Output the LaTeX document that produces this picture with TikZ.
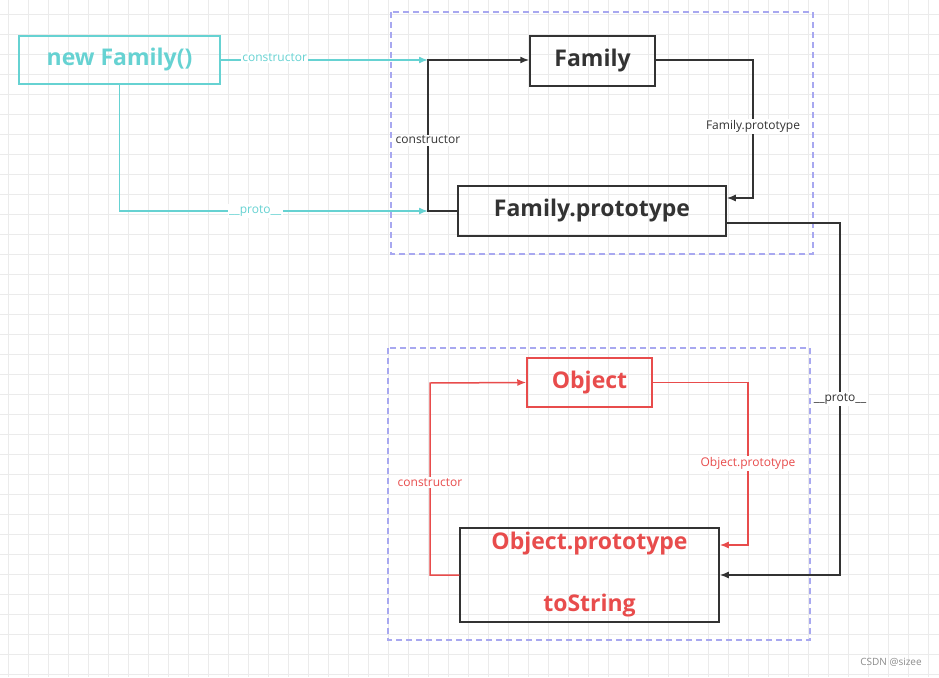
\documentclass[tikz,border=0pt]{standalone}
\usepackage{fontspec}
\setmainfont{Open Sans}
\usetikzlibrary{arrows.meta}
\definecolor{teal}{HTML}{66D2D2}
\definecolor{redc}{HTML}{E84C4C}
\definecolor{dark}{HTML}{333333}
\definecolor{frame}{HTML}{A8A8F0}
\tikzset{
  box/.style={draw=dark,line width=1.5pt,inner sep=0pt,font=\bfseries\fontsize{23}{26}\selectfont,text=dark},
  lbl/.style={fill=white,inner sep=1.5pt,font=\fontsize{12}{13}\selectfont},
  link/.style={line width=1.5pt,-{Latex[length=9pt,width=7pt]}},
}
\begin{document}
\begin{tikzpicture}[x=1pt,y=-1pt]
  \useasboundingbox (0,0) rectangle (939,677);
  \fill[white] (0,0) rectangle (939,677);
  % background grid
  \foreach \x in {8,28,...,938} \draw[black!8] (\x,0) -- (\x,677);
  \foreach \y in {14,34,...,676} \draw[black!8] (0,\y) -- (939,\y);
  % groups
  \draw[frame,line width=1.2pt,dash pattern=on 6pt off 4pt] (391,12) rectangle (813,254);
  \draw[frame,line width=1.2pt,dash pattern=on 6pt off 4pt] (388,348) rectangle (810,640);
  % boxes
  \node[box,draw=teal,text=teal,minimum width=201pt,minimum height=48pt] (new) at (119.5,60) {new Family()};
  \node[box,minimum width=125pt,minimum height=50pt] (fam) at (592.5,61) {Family};
  \node[box,minimum width=268pt,minimum height=50pt] (famp) at (592,211) {Family.prototype};
  \node[box,draw=redc,text=redc,minimum width=125pt,minimum height=49pt] (obj) at (589.5,382.5) {Object};
  \node[box,text=redc,minimum width=259pt,minimum height=94pt,align=center,font=\bfseries\fontsize{23}{62}\selectfont] (objp) at (589.5,575) {Object.prototype\\toString};
  % connectors
  \coordinate (c1) at (428,211);
  \coordinate (c2) at (428,60);
  \draw[link,teal] (new.east |- 0,60) -- node[lbl,pos=0.26,above=-4pt]{constructor} (c2);
  \draw[link,teal] (new.south) |- node[lbl,pos=0.72]{\_\_proto\_\_} (c1);
  \draw[link,dark] (famp.west) -- (c1) -- node[lbl,pos=0.47]{constructor} (c2) -- (fam.west |- c2);
  \draw[link,dark] (fam.east |- 0,60) -| node[lbl,pos=0.74]{Family.prototype} (753,198) -- (famp.east |- 0,198);
  \draw[link,dark] (famp.east |- 0,223) -| node[lbl,pos=0.75]{\_\_proto\_\_} (840,575) -- (objp.east);
  \draw[link,redc] (objp.west) -| node[lbl,pos=0.74]{constructor} (430,383) -- (obj.west);
  \draw[link,redc] (obj.east) -| node[lbl,pos=0.75]{Object.prototype} (748,545) -- (objp.east |- 0,545);
  \node[text=black!45,font=\fontsize{10}{11}\selectfont] (mark) at (891,662) {CSDN @sizee};
\end{tikzpicture}
\end{document}
